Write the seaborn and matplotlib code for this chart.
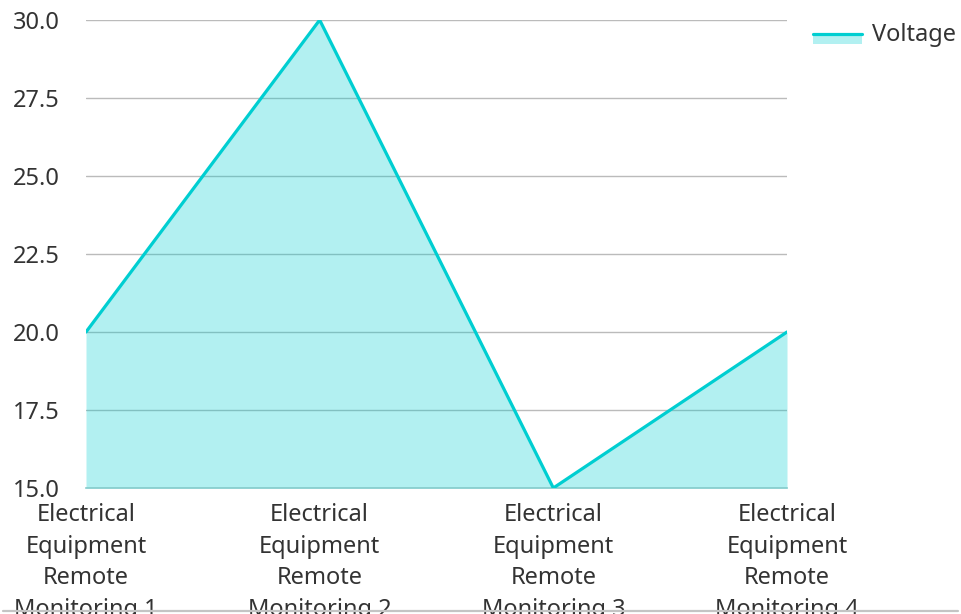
import matplotlib
matplotlib.use("Agg")
import matplotlib.pyplot as plt
import seaborn as sns
import pandas as pd
from matplotlib.legend_handler import HandlerBase
from matplotlib.patches import Rectangle
from matplotlib.lines import Line2D

categories = ["Electrical Equipment Remote Monitoring 1",
              "Electrical Equipment Remote Monitoring 2",
              "Electrical Equipment Remote Monitoring 3",
              "Electrical Equipment Remote Monitoring 4"]
voltage = [20, 30, 15, 20]
y_ticks = [15.0, 17.5, 20.0, 22.5, 25.0, 27.5, 30.0]
series_name = "Voltage"

LINE = "#00CED1"
FILL_ALPHA = 0.3
TEXT = "#333333"
GRID = "#BBBBBB"

sns.set_theme(style="white")
plt.rcParams['font.family'] = ['Noto Sans', 'DejaVu Sans']

df = pd.DataFrame({"category": categories, "value": voltage})
df["pos"] = range(len(df))

fig = plt.figure(figsize=(9.61, 6.14), dpi=100)
ax = fig.add_axes([86/961, 1-488/614, (787-86)/961, (488-20)/614])

ax.fill_between(df["pos"], 15, df["value"], color=LINE, alpha=FILL_ALPHA,
                linewidth=0, zorder=2)
sns.lineplot(data=df, x="pos", y="value", ax=ax, color=LINE, linewidth=2.3,
             zorder=3, legend=False)

ax.set_xlim(0, 3)
ax.set_ylim(15, 30)
ax.set_yticks(y_ticks)
ax.set_yticklabels([f"{v:.1f}" for v in y_ticks])
ax.set_xticks(df["pos"])
wrapped = ["Electrical\nEquipment\nRemote\n" + c.split("Remote ")[1] for c in categories]
ax.set_xticklabels(wrapped, linespacing=1.44)
ax.tick_params(axis="both", length=0, labelsize=17, colors=TEXT)
ax.tick_params(axis="y", pad=19)
ax.tick_params(axis="x", pad=10.5)
for lbl in ax.get_yticklabels():
    lbl.set_verticalalignment("center_baseline")
ax.yaxis.grid(True, color=GRID, linewidth=1, zorder=1)
ax.xaxis.grid(False)
ax.set_axisbelow(True)
for name, s in ax.spines.items():
    s.set_visible(name == "bottom")
ax.spines["bottom"].set_color("#86CCCC")
ax.spines["bottom"].set_linewidth(1.2)
ax.set_xlabel("")
ax.set_ylabel("")


class AreaHandler(HandlerBase):
    def create_artists(self, legend, orig_handle, xdescent, ydescent,
                       width, height, fontsize, trans):
        top = height * 0.42
        bottom = -height * 0.2
        rect = Rectangle((-xdescent, bottom - ydescent), width, top - bottom,
                         facecolor=LINE, alpha=FILL_ALPHA, edgecolor="none",
                         transform=trans)
        line = Line2D([-xdescent, -xdescent + width], [top - ydescent, top - ydescent],
                      color=LINE, linewidth=2.3, transform=trans)
        return [rect, line]


handle = Rectangle((0, 0), 1, 1)
leg = fig.legend([handle], [series_name], handler_map={Rectangle: AreaHandler()},
                 loc="upper left", bbox_to_anchor=(808/961, 1-18/614),
                 frameon=False, fontsize=17, handlelength=2.1, handletextpad=0.42,
                 borderaxespad=0, borderpad=0.2)
for t in leg.get_texts():
    t.set_color(TEXT)

fig.add_artist(Line2D([0.003, 0.997], [1-610.5/614, 1-610.5/614], color="#C4C4C4",
                      linewidth=1.6, transform=fig.transFigure))

fig.savefig("out.png", dpi=100)
